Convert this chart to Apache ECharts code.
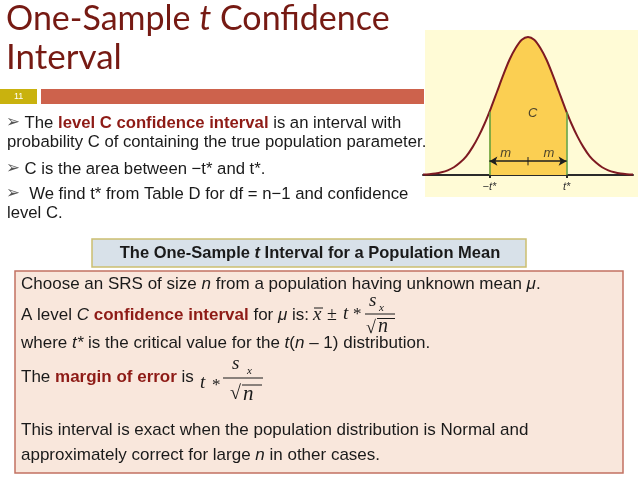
<!DOCTYPE html>
<html><head><meta charset="utf-8">
<script src="https://cdn.jsdelivr.net/npm/echarts@6/dist/echarts.min.js"></script>
<style>html,body{margin:0;padding:0;background:#fff}#c{width:638px;height:479px}</style>
</head><body><div id="c"></div>
<script>
// standardized positions along the t axis and curve heights (relative to peak)
const zValues = [-3.4,-3.2,-3.0,-2.8,-2.6,-2.4,-2.2,-2.0,-1.8,-1.6,-1.4,-1.2,-1.0,-0.8,-0.6,-0.4,-0.2,0,0.2,0.4,0.6,0.8,1.0,1.2,1.4,1.6,1.8,2.0,2.2,2.4,2.6,2.8,3.0,3.2,3.4];
const density = [0.003,0.006,0.011,0.02,0.034,0.056,0.09,0.135,0.2,0.28,0.375,0.485,0.605,0.725,0.835,0.92,0.98,1.0,0.98,0.92,0.835,0.725,0.605,0.485,0.375,0.28,0.2,0.135,0.09,0.056,0.034,0.02,0.011,0.006,0.003];
const tStar = 1.25;
const tStarHeight = 0.456;
const arrowLevel = 0.1;
const tickPositions = [-tStar, tStar];
const tickLabels = ['\u2212t*', 't*'];
const annotations = [[-0.72, 0.16, 'm'], [0.68, 0.16, 'm'], [0.15, 0.45, 'C']];

const curve = zValues.map((z, i) => [z, density[i]]);
const central = [[-tStar, tStarHeight]].concat(curve.filter(p => Math.abs(p[0]) < tStar), [[tStar, tStarHeight]]);

const SANS = '"Liberation Sans", Arial, sans-serif';
const SERIF = '"Liberation Serif", "Times New Roman", serif';
const DARKRED = '#8e1b16';
const TXT = '#1a1a1a';

function txt(x, y, text, size, rich) {
  return {
    type: 'text', x: x, y: y, z: 100,
    style: { text: text, font: size + 'px ' + SANS, fill: TXT, verticalAlign: 'middle', align: 'left', rich: rich || {} }
  };
}
const richBody = function (size) {
  return {
    i: { fontStyle: 'italic', fontSize: size, fontFamily: SANS, fill: TXT, color: TXT },
    b: { fontWeight: 'bold', fontSize: size, fontFamily: SANS, fill: DARKRED, color: DARKRED },
    g: { fontSize: size, fontFamily: '"DejaVu Sans", sans-serif', fill: '#555', color: '#555' }
  };
};
function line(x1, y1, x2, y2, w, c) {
  return { type: 'line', z: 100, shape: { x1: x1, y1: y1, x2: x2, y2: y2 }, style: { stroke: c || TXT, lineWidth: w || 1 } };
}
function serif(x, y, t, size, italic) {
  return { type: 'text', x: x, y: y, z: 100, style: { text: t, font: (italic ? 'italic ' : '') + size + 'px ' + SERIF, fill: TXT, verticalAlign: 'middle' } };
}

const B = 16.7, M = 17;
const TITLE = '#761a13';
const graphics = [
  { type: 'rect', z: -5, shape: { x: 425, y: 30, width: 213, height: 167 }, style: { fill: '#fffbd6' } },
  // title
  { type: 'text', x: 6, y: 19, z: 100, style: { text: 'One-Sample {i|t} Confidence', font: '34px Lato, sans-serif', fill: TITLE, verticalAlign: 'middle',
      rich: { i: { fontStyle: 'italic', fontSize: 34, fontFamily: 'Lato, sans-serif', fill: TITLE, color: TITLE } } } },
  { type: 'text', x: 6, y: 58, z: 100, style: { text: 'Interval', font: '35px Lato, sans-serif', fill: TITLE, verticalAlign: 'middle' } },
  { type: 'rect', z: 100, shape: { x: 0, y: 89, width: 37, height: 15 }, style: { fill: '#c9b20e' } },
  { type: 'text', x: 14, y: 97, z: 101, style: { text: '11', font: '9px ' + SANS, fill: '#fff', verticalAlign: 'middle' } },
  { type: 'rect', z: 100, shape: { x: 41, y: 89, width: 383, height: 15 }, style: { fill: '#cd624c' } },
  // bullets
  txt(6, 123, '{g|\u27A2} The {b|level C confidence interval} is an interval with', B, richBody(B)),
  txt(7, 142, 'probability C of containing the true population parameter.', B),
  txt(6, 169, '{g|\u27A2} C is the area between \u2212t* and t*.', B, richBody(B)),
  txt(6, 194, '{g|\u27A2}  We find t* from Table D for df = n\u22121 and confidence', B, richBody(B)),
  txt(7, 213, 'level C.', B),
  // header box
  { type: 'rect', z: 99, shape: { x: 92, y: 239, width: 434, height: 28 }, style: { fill: '#d8e1e9', stroke: '#cbbf70', lineWidth: 1.5 } },
  { type: 'text', x: 310, y: 253, z: 100, style: { text: 'The One-Sample {i|t} Interval for a Population Mean', font: 'bold 16.5px ' + SANS, fill: TXT, align: 'center', verticalAlign: 'middle',
      rich: { i: { fontStyle: 'italic', fontWeight: 'bold', fontSize: 16.5, fontFamily: SANS, fill: TXT, color: TXT } } } },
  // main box
  { type: 'rect', z: 98, shape: { x: 15, y: 271, width: 608, height: 202 }, style: { fill: '#f9e7dc', stroke: '#c27262', lineWidth: 1.5 } },
  txt(21, 284, 'Choose an SRS of size {i|n} from a population having unknown mean {i|\u03bc}.', M, richBody(M)),
  txt(21, 315, 'A level {i|C} {b|confidence interval} for {i|\u03bc} is:', M, richBody(M)),
  txt(21, 343, 'where {i|t*} is the critical value for the {i|t}({i|n} \u2013 1) distribution.', M, richBody(M)),
  txt(21, 377, 'The {b|margin of error} is', M, richBody(M)),
  txt(21, 430, 'This interval is exact when the population distribution is Normal and', M, richBody(M)),
  txt(21, 455, 'approximately correct for large {i|n} in other cases.', M, richBody(M)),
  // formula 1: x-bar ± t* s_x / sqrt(n)
  serif(313, 314.5, 'x', 19, true),
  line(314, 308, 323, 308, 1),
  serif(327, 315, '\u00b1', 18, false),
  serif(343, 314, 't', 19, true),
  serif(353, 315, '*', 17, false),
  serif(369, 301, 's', 19, true),
  serif(379, 308.5, 'x', 11, true),
  line(365, 314, 395, 314, 1),
  serif(366, 328, '\u221a', 18, false),
  line(377, 318.5, 395, 318.5, 1),
  serif(378, 327, 'n', 20, true),
  // formula 2: t* s_x / sqrt(n)
  serif(200, 382.5, 't', 19, true),
  serif(212, 386, '*', 17, false),
  serif(232, 364, 's', 19, true),
  serif(247, 371.5, 'x', 11, true),
  line(223, 378, 263, 378, 1),
  serif(230, 394, '\u221a', 20, false),
  line(242, 385, 262, 385, 1),
  serif(243, 394, 'n', 21, true)
];

const chart = echarts.init(document.getElementById('c'), null, { renderer: 'canvas' });
chart.setOption({
  backgroundColor: '#ffffff',
  animation: false,
  grid: { left: 423, width: 210, top: 37, height: 138 },
  xAxis: {
    type: 'value', min: -3.4, max: 3.4,
    splitLine: { show: false },
    axisLine: { show: true, lineStyle: { color: '#2a2a2a', width: 2 } },
    axisTick: { show: true, customValues: tickPositions, length: 3, inside: false, lineStyle: { color: '#2a2a2a', width: 2 } },
    axisLabel: { show: true, customValues: tickPositions, margin: 6, color: '#333', fontSize: 11, fontStyle: 'italic', fontFamily: SANS,
      formatter: v => tickLabels[tickPositions.indexOf(v)] }
  },
  yAxis: { type: 'value', min: 0, max: 1, show: false },
  series: [
    { type: 'line', data: central, smooth: 0.3, symbol: 'none', z: 1,
      lineStyle: { width: 0 }, areaStyle: { color: '#fbcf52', opacity: 1 },
      markLine: { silent: true, symbol: 'none', label: { show: false },
        data: [
          [{ coord: [-tStar, 0], lineStyle: { color: '#5d9e3e', width: 1.5, type: 'solid' } }, { coord: [-tStar, tStarHeight] }],
          [{ coord: [tStar, 0], lineStyle: { color: '#5d9e3e', width: 1.5, type: 'solid' } }, { coord: [tStar, tStarHeight] }]
        ] } },
    { type: 'line', data: curve, smooth: 0.3, symbol: 'none', z: 3,
      lineStyle: { color: '#7e1a22', width: 2 },
      markLine: { silent: true, symbol: ['arrow', 'arrow'], symbolSize: [7, 8], label: { show: false },
        lineStyle: { color: '#1e1e1e', width: 1.5, type: 'solid' },
        data: [[{ coord: [-tStar, arrowLevel] }, { coord: [tStar, arrowLevel] }]] } },
    { type: 'line', data: [[0, arrowLevel - 0.03], [0, arrowLevel + 0.03]], symbol: 'none', z: 4,
      lineStyle: { color: '#1e1e1e', width: 1 } },
    { type: 'scatter', data: annotations, symbolSize: 0, z: 5,
      label: { show: true, position: 'inside', formatter: p => p.data[2], fontStyle: 'italic', fontSize: 13, fontFamily: SANS, color: '#222' } }
  ],
  graphic: graphics
});
</script>
</body></html>
